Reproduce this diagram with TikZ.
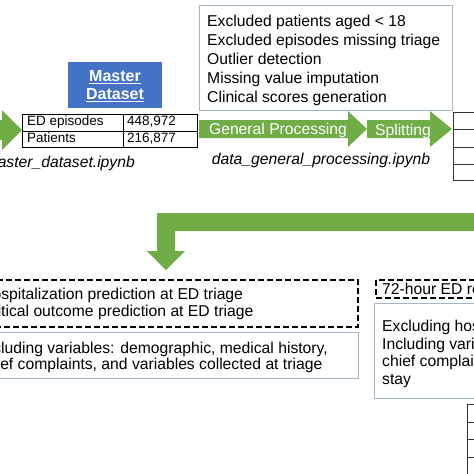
\documentclass[tikz,border=0pt]{standalone}
\usepackage{fontspec}
\setmainfont{Liberation Sans}
\definecolor{flowgreen}{HTML}{70AD47}
\definecolor{masterblue}{HTML}{4472C4}
\definecolor{paleframe}{HTML}{A3B5C9}
\tikzset{
  txt/.style={inner sep=0pt, text height=11.3pt, text depth=3.3pt, font=\fontsize{15.7}{18.8}\selectfont},
  ittxt/.style={txt, font=\fontsize{15.7}{18.8}\selectfont\itshape},
  celltxt/.style={txt, anchor=west, text height=9.7pt, text depth=2.8pt, font=\fontsize{13.5}{16}\selectfont},
  taskbox/.style={line width=2pt, dash pattern=on 6pt off 3pt},
  infobox/.style={draw=paleframe, line width=1pt}
}
\begin{document}
\begin{tikzpicture}[x=1pt,y=-1pt]
\useasboundingbox (0,0) rectangle (474,474);
\clip (0,0) rectangle (474,474);
\fill[flowgreen] (-30,120) -- (2,120) -- (2,110) -- (22,130) -- (2,150) -- (2,140) -- (-30,140) -- cycle;
\fill[masterblue] (68,62) rectangle (162,108);
\node[inner sep=0pt, text=white, font=\fontsize{16}{18}\selectfont\bfseries, align=center] (master) at (115,86) {\underline{Master}\\\underline{Dataset}};
\draw[line width=1pt] (22,114) rectangle (197,147);
\draw[line width=1pt] (22,131) -- (197,131) (123,114) -- (123,147);
\node[celltxt] (episodes) at (27,122.5) {ED episodes};
\node[celltxt] (patients) at (27,139.5) {Patients};
\node[celltxt] (nepisodes) at (127,122.5) {448,972};
\node[celltxt] (npatients) at (127,139.5) {216,877};
\node[ittxt, anchor=east] (masternb) at (135,163) {master\_dataset.ipynb};
\draw[infobox] (199,5) rectangle (452,110);
\foreach \steptext [count=\i] in {Excluded patients aged < 18, Excluded episodes missing triage, Outlier detection, Missing value imputation, Clinical scores generation}
  \node[txt, anchor=west] (step\i) at (207,3+19*\i) {\steptext};
\fill[flowgreen] (199,120) -- (348,120) -- (348,111) -- (367,129) -- (348,147) -- (348,138) -- (199,138) -- cycle;
\fill[flowgreen] (367,120) -- (430,120) -- (430,111) -- (452,129) -- (430,147) -- (430,138) -- (367,138) -- cycle;
\node[txt, text=white] (genproc) at (278,130) {General Processing};
\node[txt, text=white] (splitting) at (403,131) {Splitting};
\node[ittxt] (procnb) at (321,160) {data\_general\_processing.ipynb};
\draw[line width=1pt, black!80] (453,112) rectangle (520,180);
\foreach \y in {129,147,164}
  \draw[line width=1pt, black!80] (453,\y) -- (520,\y);
\fill[flowgreen] (500,213) -- (157,213) -- (157,251) -- (147,251) -- (166,270) -- (185,251) -- (175,251) -- (175,231) -- (500,231) -- cycle;
\draw[taskbox] (-30,280) rectangle (358,327);
\foreach \tasktext [count=\i] in {Hospitalization prediction at ED triage, Critical outcome prediction at ED triage}
  \node[txt, anchor=west] (hosptask\i) at (-19,277.5+17.7*\i) {\tasktext};
\draw[infobox] (-30,332) rectangle (358,378);
\foreach \vartext [count=\i] in {{Including variables: demographic, medical history,}, {chief complaints, and variables collected at triage}}
  \node[txt, anchor=west] (hospvar\i) at (-20,333+16.3*\i) {\vartext};
\draw[taskbox] (376,280) rectangle (520,298);
\node[txt, anchor=west] (revisittask) at (382,290) {72-hour ED revisit prediction};
\draw[infobox] (374,303) rectangle (520,398);
\foreach \vartext [count=\i] in {{Excluding hospitalized patients}, {Including variables: demographic,}, {chief complaints, and length of ED}, {stay}}
  \node[txt, anchor=west] (revisitvar\i) at (382,310+17.5*\i) {\vartext};
\draw[line width=1pt, black!80] (467,404) rectangle (520,500);
\foreach \y in {422,439,457}
  \draw[line width=1pt, black!80] (467,\y) -- (520,\y);
\end{tikzpicture}
\end{document}
